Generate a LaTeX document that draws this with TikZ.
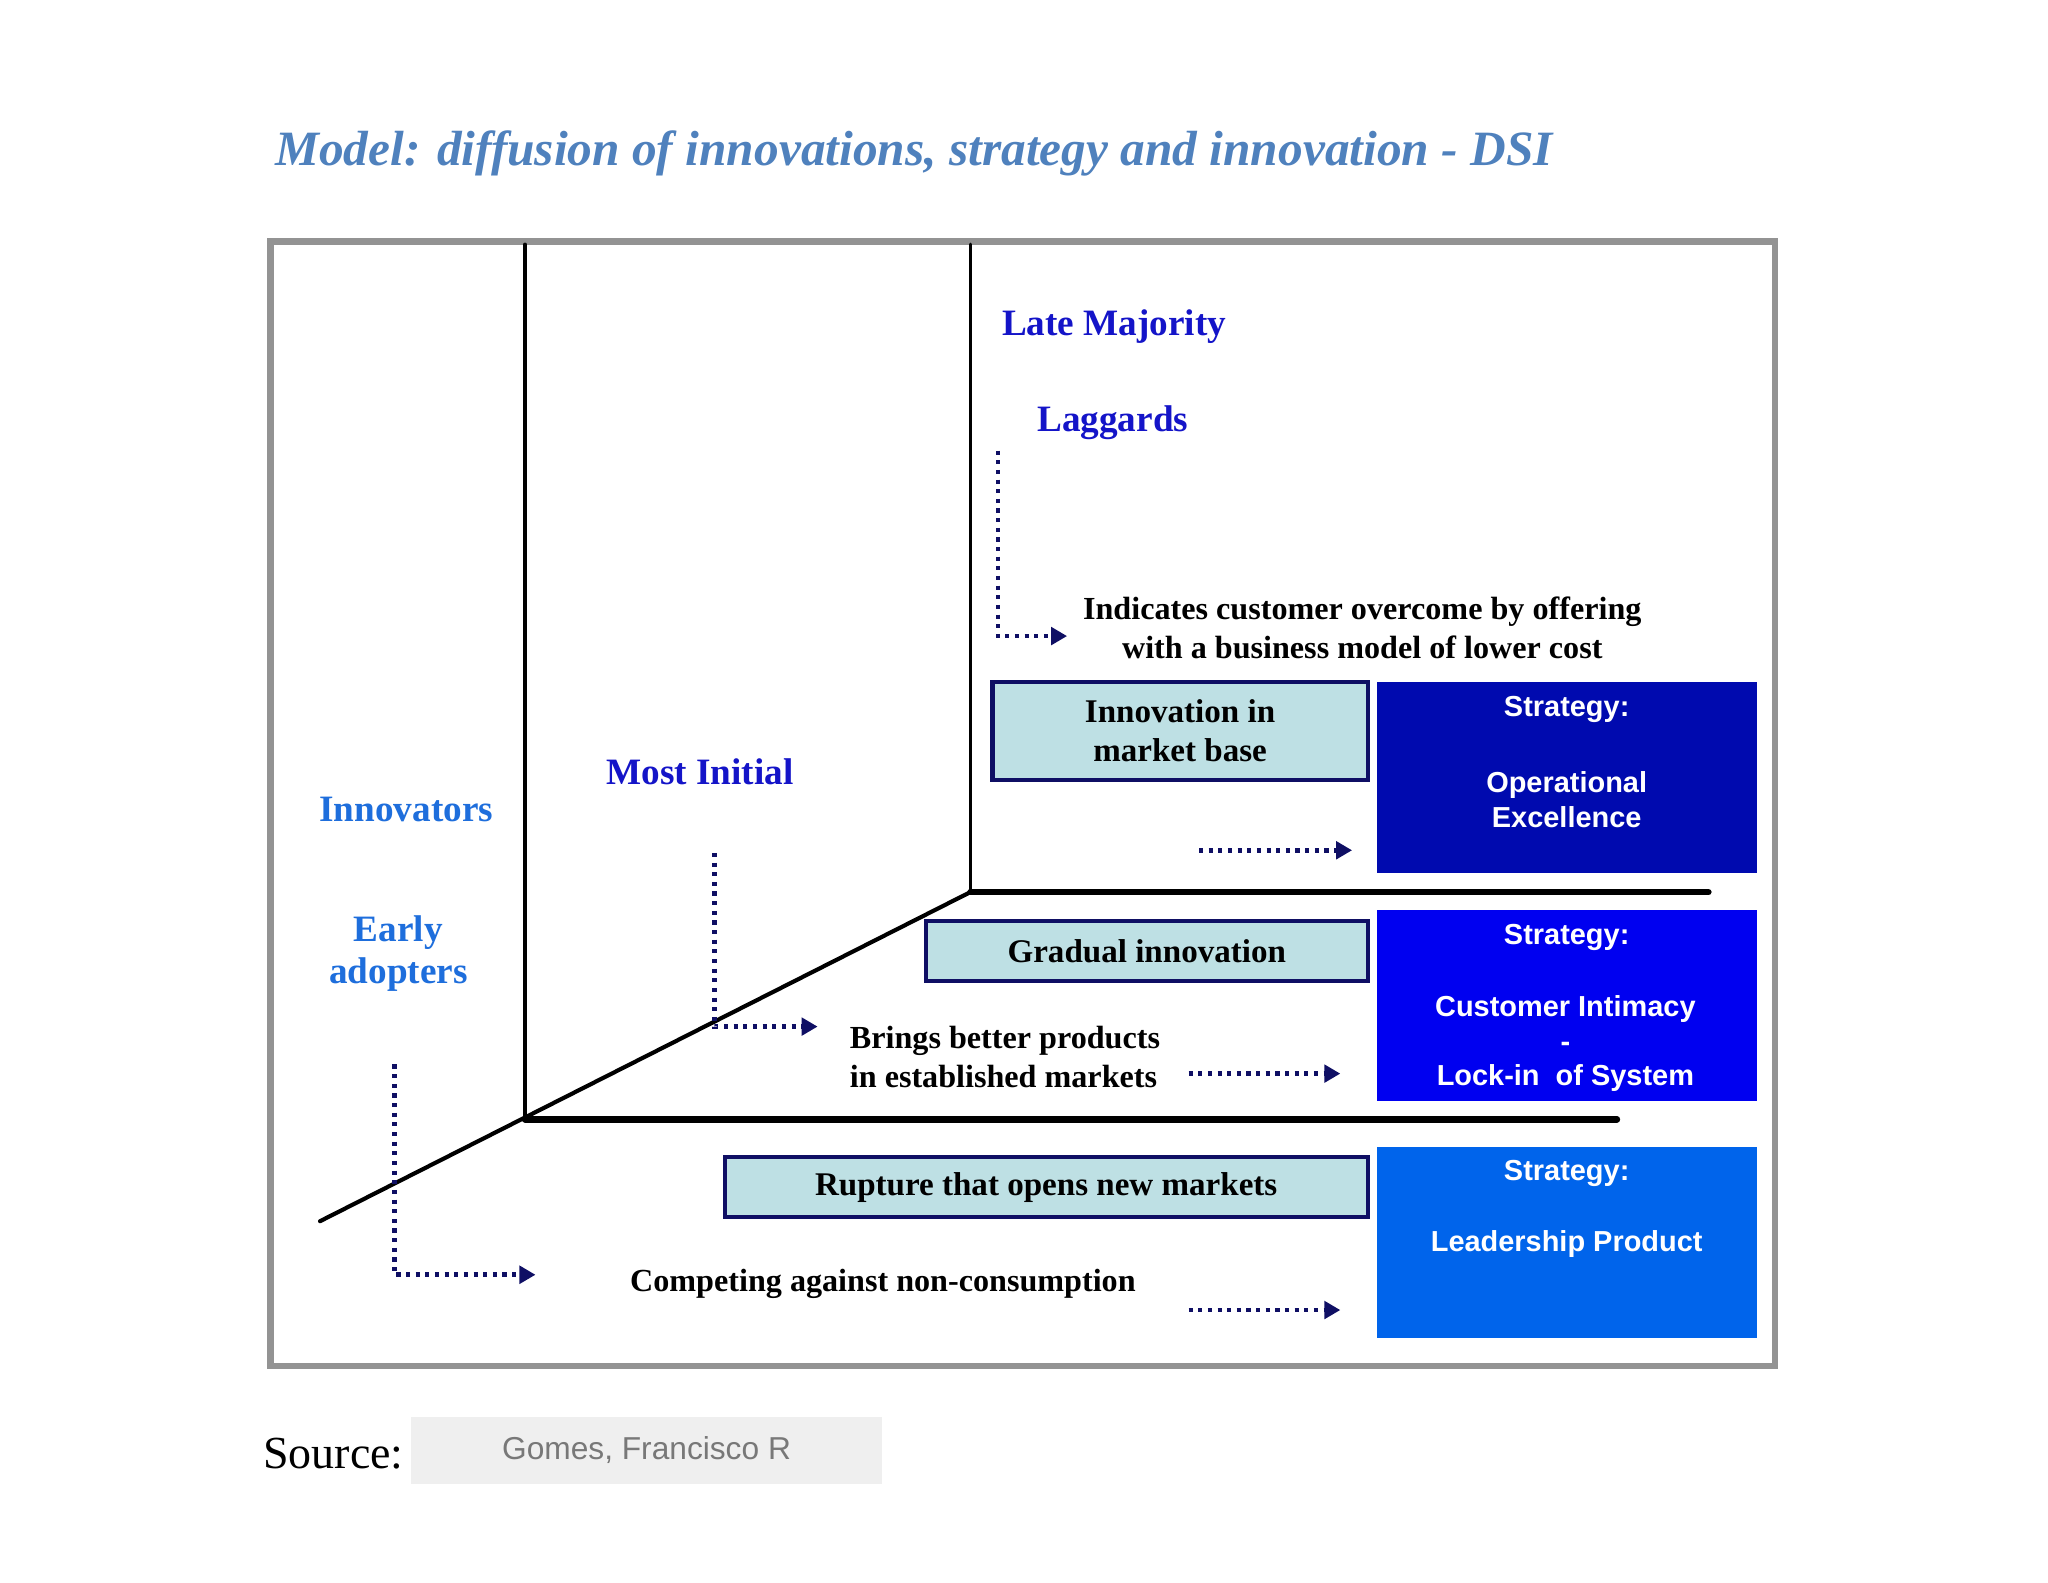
\documentclass[tikz,border=0pt]{standalone}
\usepackage{fontspec}
\setmainfont{Liberation Serif}
\setsansfont{Liberation Sans}
\usepackage{xcolor}
\usetikzlibrary{arrows.meta}
\usetikzlibrary{positioning}

\definecolor{titleblue}{RGB}{79,129,189}
\definecolor{phasedark}{RGB}{20,20,200}
\definecolor{phaselight}{RGB}{30,110,220}
\definecolor{navy}{RGB}{15,15,100}
\definecolor{cyanfill}{RGB}{190,224,228}
\definecolor{stratA}{RGB}{0,10,175}
\definecolor{stratB}{RGB}{0,0,240}
\definecolor{stratC}{RGB}{0,100,235}
\definecolor{srcfill}{RGB}{239,239,239}
\definecolor{srctext}{RGB}{120,120,120}

\begin{document}
\begin{tikzpicture}[x=0.01cm, y=-0.01cm, >=stealth,
  phase/.style={font=\bfseries\fontsize{8.1}{9.1}\selectfont, align=center, inner sep=0pt},
  innobox/.style={draw=navy, line width=0.9pt, fill=cyanfill, inner sep=0pt, align=center,
    font=\bfseries\fontsize{7.2}{8.5}\selectfont},
  note/.style={font=\bfseries\fontsize{7}{8.5}\selectfont, inner sep=0pt},
  stratbox/.style={minimum width=2.91cm, minimum height=1.46cm, inner sep=0pt},
  strattext/.style={text=white, align=center, inner sep=0pt,
    font=\sffamily\bfseries\fontsize{6.3}{7.6}\selectfont},
  flow/.style={draw=navy, line width=1pt, dash pattern=on 0.9pt off 1.2pt,
    -{Triangle[length=3.5pt,width=3.8pt]}},
  axis/.style={line width=#1, line cap=round}]

\useasboundingbox (0,0) rectangle (1568,1211.3);

\node[anchor=base west, inner sep=0pt, text=titleblue,
  font=\bfseries\itshape\fontsize{10.75}{12}\selectfont] (title) at (210,127)
  {Model: diffusion of innovations, strategy and innovation - DSI};

% frame and axes
\draw[line width=1.4pt, gray!85] (207,185) rectangle (1359,1046);

\coordinate (o-front) at (245,935);
\coordinate (o-mid) at (402,857);
\coordinate (o-back) at (743,683);

\draw[axis=0.7pt] (o-mid) -- (402,187);
\draw[axis=0.7pt] (o-back) -- (743,187);
\draw[axis=0.9pt] (o-front) -- (o-back);
\draw[axis=1.4pt] (o-mid) -- (1238,857);
\draw[axis=1.4pt] (o-back) -- (1308,683);

% adopter categories
\node[phase, text=phasedark, anchor=base] (late) at (853,257) {Late Majority};
\node[phase, text=phasedark, anchor=base] (laggards) at (852,330) {Laggards};
\node[phase, text=phasedark, anchor=base] (initial) at (536,601) {Most Initial};
\node[phase, text=phaselight, anchor=base] (innovators) at (311,629) {Innovators};
\node[phase, text=phaselight] (early) at (305,730) {Early\\adopters};

% innovation types
\node[innobox, minimum width=2.87cm, minimum height=0.75cm] (inno-base) at (903.5,559.5)
  {Innovation in\\market base};
\node[innobox, minimum width=3.38cm, minimum height=0.46cm] (inno-gradual) at (878,728)
  {Gradual innovation};
\node[innobox, minimum width=4.92cm, minimum height=0.46cm] (inno-rupture) at (801,909)
  {Rupture that opens new markets};

% strategies
\foreach \n/\c/\y in {ox/stratA/595.5, ci/stratB/770, lp/stratC/951}
  \node[stratbox, fill=\c] (strat-\n) at (1199.5,\y) {};

\foreach \n in {ox,ci,lp}
  \node[strattext, anchor=base] at ([yshift=-7.6pt]strat-\n.north) {Strategy:};

\node[strattext] (strat-ox-text) at (1199.5,612) {Operational\\Excellence};
\node[strattext] (strat-ci-text) at (1198.5,799) {Customer Intimacy\\-\\Lock-in\ \ of System};
\node[strattext, anchor=base] (strat-lp-text) at (1199.5,958) {Leadership Product};

% notes
\node[note, align=center] (note-low) at (1043,481)
  {Indicates customer overcome by offering\\with a business model of lower cost};
\node[note, align=left, anchor=west] (note-better) at (650,809)
  {Brings better products\\in established markets};
\node[note, anchor=base] (note-none) at (676,989) {Competing against non-consumption};

% dotted arrows
\coordinate (lag-from) at (764,345);
\coordinate (lag-to) at (817,487);
\coordinate (ini-from) at (547,653);
\coordinate (ini-to) at (626,786);
\coordinate (ear-from) at (302,815);
\coordinate (ear-to) at (410,976);

\draw[flow] (lag-from) |- (lag-to);
\draw[flow] (ini-from) |- (ini-to);
\draw[flow] (ear-from) |- (ear-to);

\foreach \n/\x/\y/\s in {ox/918/651/0.18cm, ci/910/822/0.27cm, lp/910/1003/0.27cm} {
  \coordinate (tail-\n) at (\x,\y);
  \draw[flow, shorten >=\s] (tail-\n) -- (tail-\n -| strat-\n.west);
}

% source
\node[fill=srcfill, minimum width=3.6cm, minimum height=0.51cm, inner sep=0pt,
  text=srctext, font=\sffamily\fontsize{6.9}{8}\selectfont] (src-box) at (495,1110.5)
  {Gomes, Francisco R};
\node[anchor=base west, inner sep=0pt, font=\fontsize{10}{12}\selectfont] (src) at (201,1124)
  {Source:};

\end{tikzpicture}
\end{document}
